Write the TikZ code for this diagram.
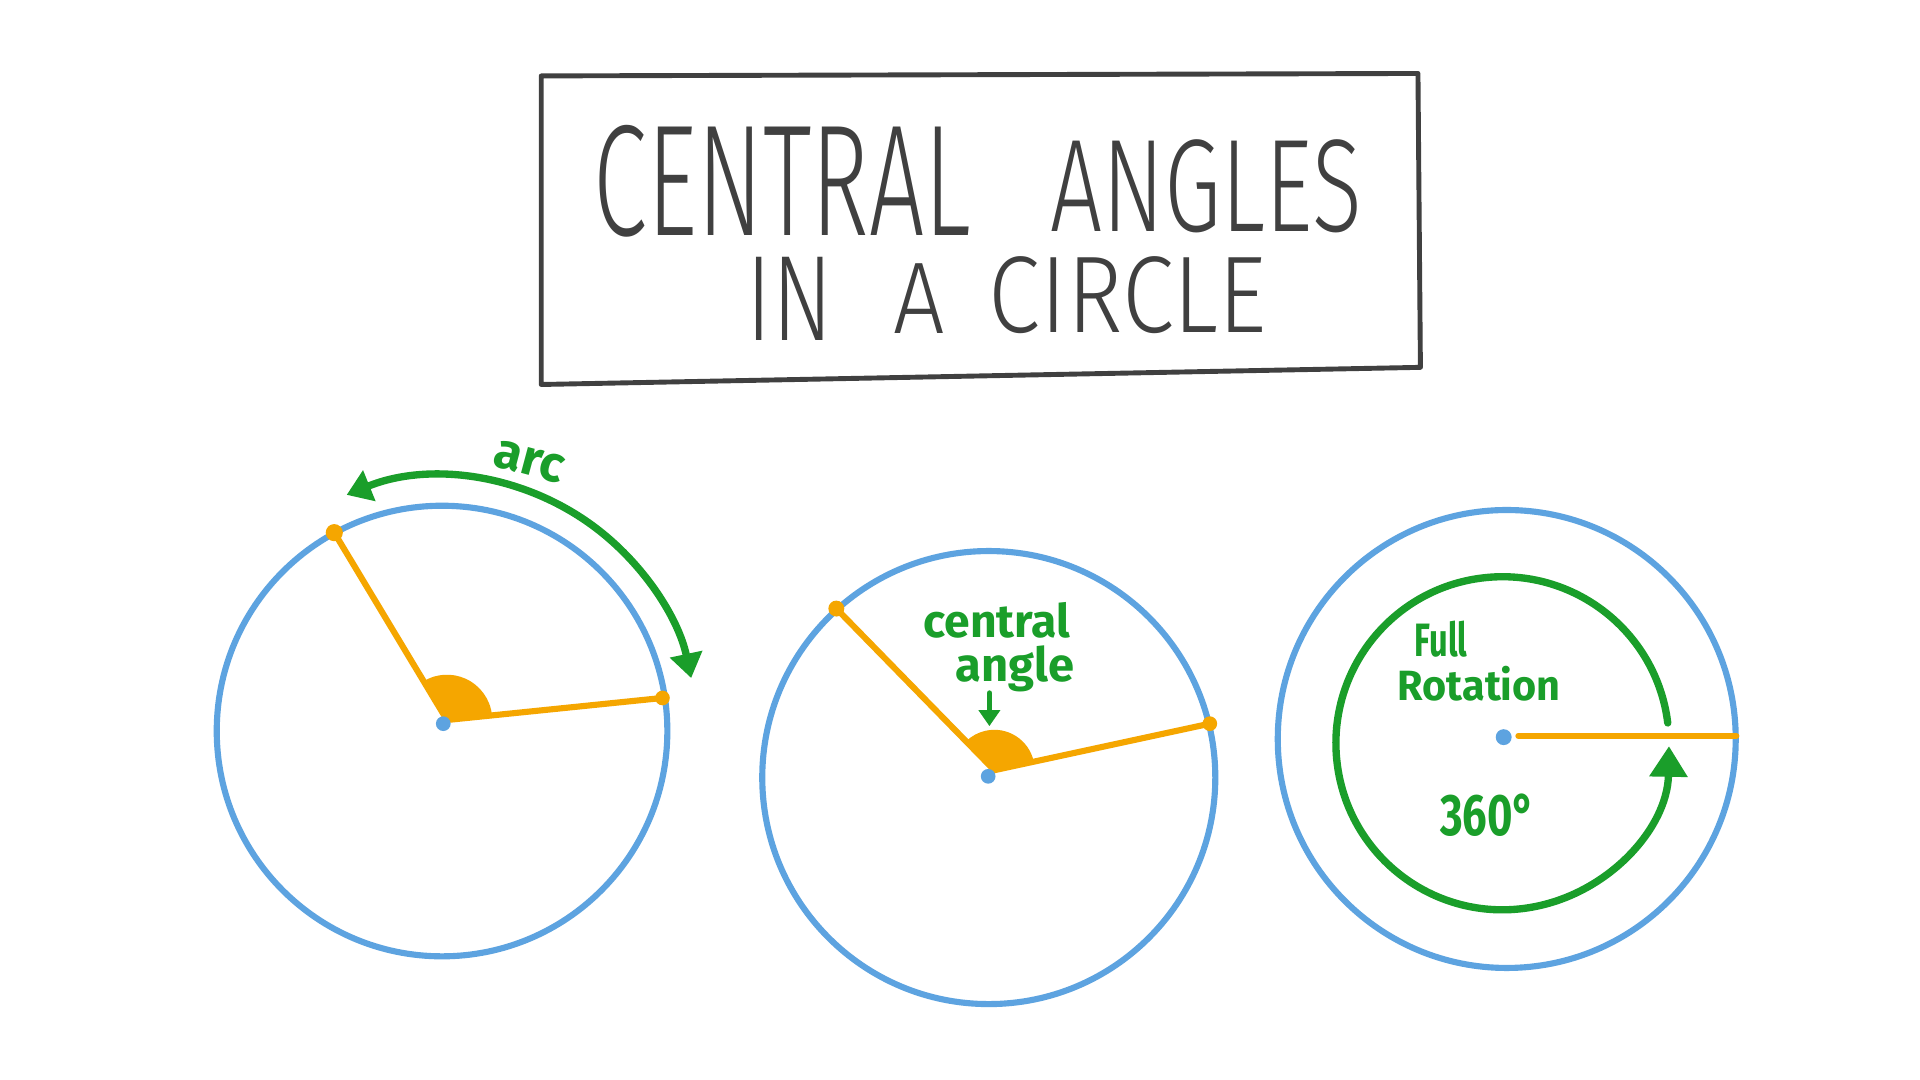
\documentclass[tikz,border=0pt]{standalone}
\usepackage{fontspec}
\setmainfont{Fira Sans}
\newfontfamily\titlefont{Fira Sans Light}
\usetikzlibrary{arrows.meta}
\definecolor{cblue}{RGB}{93,163,224}
\definecolor{corange}{RGB}{245,166,0}
\definecolor{cgreen}{RGB}{26,158,42}
\definecolor{cgray}{RGB}{64,64,64}
\begin{document}
\begin{tikzpicture}[x=0.02cm,y=0.02cm,
  ring/.style={draw=cblue,line width=0.1cm},
  ray/.style={draw=corange,line width=0.1cm,line cap=round,line join=round},
  garrow/.style={draw=cgreen,line width=0.12cm,line cap=round},
  hand/.style={text=cgreen,font=\bfseries,inner sep=0pt},
  titletext/.style={text=cgray,inner sep=0pt},
  bigtip/.style={-{Triangle[length=0.5cm,width=0.6cm]}},
  dbltip/.style={{Triangle[length=0.4cm,width=0.52cm]}-{Triangle[length=0.4cm,width=0.52cm]}}]
\useasboundingbox (0,0) rectangle (1568,-882);
\fill[white] (0,0) rectangle (1568,-882);

% ---------- title ----------
\coordinate (tl) at (442,-62);
\coordinate (tr) at (1158,-60);
\coordinate (br) at (1160,-300);
\coordinate (bl) at (442,-314);
\draw[draw=cgray,line width=0.08cm,line join=round] (tl) -- (tr) -- (br) -- (bl) -- cycle;
\node[titletext] (t1a) at (639,-148) {\resizebox{6.16cm}{1.8cm}{\titlefont CENTRAL}};
\node[titletext] (t1b) at (985,-152) {\resizebox{5.08cm}{1.5cm}{\titlefont ANGLES}};
\node[titletext] (t2a) at (645,-244) {\resizebox{1.4cm}{1.36cm}{\titlefont IN}};
\node[titletext] (t2b) at (751,-244) {\resizebox{0.84cm}{1.14cm}{\titlefont A}};
\node[titletext] (t2c) at (921,-241) {\resizebox{4.54cm}{1.24cm}{\titlefont CIRCLE}};

% ---------- circle 1 ----------
\coordinate (c1) at (361,-597);
\coordinate (v1) at (365,-588);
\coordinate (a1) at (273,-435);
\coordinate (b1) at (541,-570);
\coordinate (o1) at (362,-591);
\draw[ring] (c1) circle[radius=184];
\fill[corange] (v1) -- ++(6:37) arc[start angle=6,end angle=121,radius=37] -- cycle;
\draw[ray] (a1) -- (v1) -- (b1);
\fill[corange] (a1) circle[radius=7];
\fill[corange] (b1) circle[radius=6];
\fill[cblue] (o1) circle[radius=6];
\draw[garrow,dbltip] ([shift={(112:208)}]c1) arc[start angle=112,end angle=12,radius=208];
\node[hand,rotate=-15] (arclbl) at (432,-377) {\resizebox{1.15cm}{!}{arc}};

% ---------- circle 2 ----------
\coordinate (c2) at (807.5,-635);
\coordinate (v2) at (812,-629);
\coordinate (a2) at (683,-497);
\coordinate (b2) at (988,-591);
\coordinate (o2) at (807,-634);
\draw[ring] (c2) circle[radius=185];
\fill[corange] (v2) -- ++(12.5:33) arc[start angle=12.5,end angle=134,radius=33] -- cycle;
\draw[ray] (a2) -- (v2) -- (b2);
\fill[corange] (a2) circle[radius=6.5];
\fill[corange] (b2) circle[radius=6];
\fill[cblue] (o2) circle[radius=6];
\node[hand] (cen) at (814,-507) {\resizebox{2.4cm}{!}{central}};
\node[hand] (ang) at (829,-546) {\resizebox{1.94cm}{!}{angle}};
\coordinate (d2s) at (808,-566);
\coordinate (d2e) at (808,-593);
\draw[garrow,line width=0.09cm,-{Triangle[length=0.26cm,width=0.34cm]}] (d2s) -- (d2e);

% ---------- circle 3 ----------
\coordinate (c3) at (1230.5,-603.5);
\coordinate (g3) at (1227,-607);
\coordinate (o3) at (1228,-602);
\coordinate (r3s) at (1240,-601);
\coordinate (r3e) at (1418,-601);
\draw[ring] (c3) circle[radius=187];
\draw[ray] (r3s) -- (r3e);
\fill[cblue] (o3) circle[radius=6.5];
\draw[garrow,bigtip] ([shift={(7:136)}]g3) arc[start angle=7,end angle=359,radius=136];
\node[hand] (full) at (1177,-522) {\resizebox{0.86cm}{0.58cm}{Full}};
\node[hand] (rot) at (1208,-558) {\resizebox{2.66cm}{0.56cm}{Rotation}};
\node[hand] (deg) at (1215,-666) {\resizebox{1.56cm}{0.68cm}{360°}};
\end{tikzpicture}
\end{document}
